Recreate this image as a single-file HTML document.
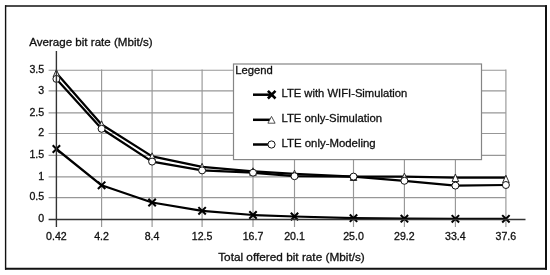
<!DOCTYPE html><html><head><meta charset="utf-8"><style>html,body{margin:0;padding:0;background:#fff;}svg{display:block}</style></head><body>
<svg width="550" height="275" viewBox="0 0 550 275">
<rect x="0" y="0" width="550" height="275" fill="#fff"/>
<line x1="5.6" y1="5.2" x2="5.6" y2="269.7" stroke="#111" stroke-width="1.4"/>
<line x1="5" y1="6.0" x2="547" y2="6.0" stroke="#111" stroke-width="1.7"/>
<line x1="546.0" y1="5.2" x2="546.0" y2="269.7" stroke="#111" stroke-width="2"/>
<line x1="5" y1="268.8" x2="547" y2="268.8" stroke="#111" stroke-width="1.9"/>
<line x1="48.6" y1="197.60" x2="505.90" y2="197.60" stroke="#979797" stroke-width="1.15"/>
<line x1="48.6" y1="176.90" x2="505.90" y2="176.90" stroke="#979797" stroke-width="1.15"/>
<line x1="48.6" y1="155.40" x2="505.90" y2="155.40" stroke="#979797" stroke-width="1.15"/>
<line x1="48.6" y1="133.50" x2="505.90" y2="133.50" stroke="#979797" stroke-width="1.15"/>
<line x1="48.6" y1="112.90" x2="505.90" y2="112.90" stroke="#979797" stroke-width="1.15"/>
<line x1="48.6" y1="90.90" x2="505.90" y2="90.90" stroke="#979797" stroke-width="1.15"/>
<line x1="48.6" y1="70.20" x2="505.90" y2="70.20" stroke="#979797" stroke-width="1.15"/>
<line x1="101.60" y1="69.60" x2="101.60" y2="227" stroke="#979797" stroke-width="1.15"/>
<line x1="152.10" y1="69.60" x2="152.10" y2="227" stroke="#979797" stroke-width="1.15"/>
<line x1="202.10" y1="69.60" x2="202.10" y2="227" stroke="#979797" stroke-width="1.15"/>
<line x1="253.00" y1="69.60" x2="253.00" y2="227" stroke="#979797" stroke-width="1.15"/>
<line x1="294.50" y1="69.60" x2="294.50" y2="227" stroke="#979797" stroke-width="1.15"/>
<line x1="353.50" y1="69.60" x2="353.50" y2="227" stroke="#979797" stroke-width="1.15"/>
<line x1="404.40" y1="69.60" x2="404.40" y2="227" stroke="#979797" stroke-width="1.15"/>
<line x1="455.40" y1="69.60" x2="455.40" y2="227" stroke="#979797" stroke-width="1.15"/>
<line x1="505.90" y1="69.60" x2="505.90" y2="227" stroke="#979797" stroke-width="1.15"/>
<text x="44.2" y="222.30" font-family="Liberation Sans, Arial, sans-serif" stroke="#111" stroke-width="0.3" font-size="10.6" text-anchor="end" fill="#111">0</text>
<text x="44.2" y="200.40" font-family="Liberation Sans, Arial, sans-serif" stroke="#111" stroke-width="0.3" font-size="10.6" text-anchor="end" fill="#111">0.5</text>
<text x="44.2" y="179.70" font-family="Liberation Sans, Arial, sans-serif" stroke="#111" stroke-width="0.3" font-size="10.6" text-anchor="end" fill="#111">1</text>
<text x="44.2" y="158.20" font-family="Liberation Sans, Arial, sans-serif" stroke="#111" stroke-width="0.3" font-size="10.6" text-anchor="end" fill="#111">1.5</text>
<text x="44.2" y="136.30" font-family="Liberation Sans, Arial, sans-serif" stroke="#111" stroke-width="0.3" font-size="10.6" text-anchor="end" fill="#111">2</text>
<text x="44.2" y="115.70" font-family="Liberation Sans, Arial, sans-serif" stroke="#111" stroke-width="0.3" font-size="10.6" text-anchor="end" fill="#111">2.5</text>
<text x="44.2" y="93.70" font-family="Liberation Sans, Arial, sans-serif" stroke="#111" stroke-width="0.3" font-size="10.6" text-anchor="end" fill="#111">3</text>
<text x="44.2" y="73.00" font-family="Liberation Sans, Arial, sans-serif" stroke="#111" stroke-width="0.3" font-size="10.6" text-anchor="end" fill="#111">3.5</text>
<text x="56.40" y="239.7" font-family="Liberation Sans, Arial, sans-serif" stroke="#111" stroke-width="0.3" font-size="10.6" text-anchor="middle" fill="#111">0.42</text>
<text x="101.60" y="239.7" font-family="Liberation Sans, Arial, sans-serif" stroke="#111" stroke-width="0.3" font-size="10.6" text-anchor="middle" fill="#111">4.2</text>
<text x="152.10" y="239.7" font-family="Liberation Sans, Arial, sans-serif" stroke="#111" stroke-width="0.3" font-size="10.6" text-anchor="middle" fill="#111">8.4</text>
<text x="202.10" y="239.7" font-family="Liberation Sans, Arial, sans-serif" stroke="#111" stroke-width="0.3" font-size="10.6" text-anchor="middle" fill="#111">12.5</text>
<text x="253.00" y="239.7" font-family="Liberation Sans, Arial, sans-serif" stroke="#111" stroke-width="0.3" font-size="10.6" text-anchor="middle" fill="#111">16.7</text>
<text x="294.50" y="239.7" font-family="Liberation Sans, Arial, sans-serif" stroke="#111" stroke-width="0.3" font-size="10.6" text-anchor="middle" fill="#111">20.1</text>
<text x="353.50" y="239.7" font-family="Liberation Sans, Arial, sans-serif" stroke="#111" stroke-width="0.3" font-size="10.6" text-anchor="middle" fill="#111">25.0</text>
<text x="404.40" y="239.7" font-family="Liberation Sans, Arial, sans-serif" stroke="#111" stroke-width="0.3" font-size="10.6" text-anchor="middle" fill="#111">29.2</text>
<text x="455.40" y="239.7" font-family="Liberation Sans, Arial, sans-serif" stroke="#111" stroke-width="0.3" font-size="10.6" text-anchor="middle" fill="#111">33.4</text>
<text x="505.90" y="239.7" font-family="Liberation Sans, Arial, sans-serif" stroke="#111" stroke-width="0.3" font-size="10.6" text-anchor="middle" fill="#111">37.6</text>
<text x="29.2" y="46" font-family="Liberation Sans, Arial, sans-serif" stroke="#111" stroke-width="0.3" font-size="11" textLength="123.4" lengthAdjust="spacingAndGlyphs" fill="#111">Average bit rate (Mbit/s)</text>
<text x="218.2" y="260.9" font-family="Liberation Sans, Arial, sans-serif" stroke="#111" stroke-width="0.3" font-size="11" textLength="146.6" lengthAdjust="spacingAndGlyphs" fill="#111">Total offered bit rate (Mbit/s)</text>
<polyline points="56.40,149.00 101.60,185.30 152.10,202.50 202.10,210.80 253.00,215.00 294.50,216.50 353.50,218.20 404.40,218.70 455.40,218.80 505.90,218.80" fill="none" stroke="#000" stroke-width="2.25" stroke-linejoin="round"/>
<polyline points="56.40,73.10 101.60,124.50 152.10,156.40 202.10,166.90 253.00,171.40 294.50,173.80 353.50,176.60 404.40,176.60 455.40,177.60 505.90,177.50" fill="none" stroke="#000" stroke-width="2.25" stroke-linejoin="round"/>
<polyline points="56.40,78.90 101.60,128.80 152.10,161.60 202.10,170.40 253.00,172.70 294.50,176.20 353.50,176.60 404.40,180.80 455.40,185.60 505.90,185.00" fill="none" stroke="#000" stroke-width="2.25" stroke-linejoin="round"/>
<path d="M52.70,145.30L60.10,152.70M60.10,145.30L52.70,152.70" stroke="#000" stroke-width="2.05" fill="none"/>
<path d="M97.90,181.60L105.30,189.00M105.30,181.60L97.90,189.00" stroke="#000" stroke-width="2.05" fill="none"/>
<path d="M148.40,198.80L155.80,206.20M155.80,198.80L148.40,206.20" stroke="#000" stroke-width="2.05" fill="none"/>
<path d="M198.40,207.10L205.80,214.50M205.80,207.10L198.40,214.50" stroke="#000" stroke-width="2.05" fill="none"/>
<path d="M249.30,211.30L256.70,218.70M256.70,211.30L249.30,218.70" stroke="#000" stroke-width="2.05" fill="none"/>
<path d="M290.80,212.80L298.20,220.20M298.20,212.80L290.80,220.20" stroke="#000" stroke-width="2.05" fill="none"/>
<path d="M349.80,214.50L357.20,221.90M357.20,214.50L349.80,221.90" stroke="#000" stroke-width="2.05" fill="none"/>
<path d="M400.70,215.00L408.10,222.40M408.10,215.00L400.70,222.40" stroke="#000" stroke-width="2.05" fill="none"/>
<path d="M451.70,215.10L459.10,222.50M459.10,215.10L451.70,222.50" stroke="#000" stroke-width="2.05" fill="none"/>
<path d="M502.20,215.10L509.60,222.50M509.60,215.10L502.20,222.50" stroke="#000" stroke-width="2.05" fill="none"/>
<polygon points="56.40,69.50 59.70,77.00 53.10,77.00" fill="#fff" stroke="#222" stroke-width="0.95"/>
<polygon points="101.60,120.90 104.90,128.40 98.30,128.40" fill="#fff" stroke="#222" stroke-width="0.95"/>
<polygon points="152.10,152.80 155.40,160.30 148.80,160.30" fill="#fff" stroke="#222" stroke-width="0.95"/>
<polygon points="202.10,163.30 205.40,170.80 198.80,170.80" fill="#fff" stroke="#222" stroke-width="0.95"/>
<polygon points="253.00,167.80 256.30,175.30 249.70,175.30" fill="#fff" stroke="#222" stroke-width="0.95"/>
<polygon points="294.50,170.20 297.80,177.70 291.20,177.70" fill="#fff" stroke="#222" stroke-width="0.95"/>
<polygon points="353.50,173.00 356.80,180.50 350.20,180.50" fill="#fff" stroke="#222" stroke-width="0.95"/>
<polygon points="404.40,173.10 407.70,180.60 401.10,180.60" fill="#fff" stroke="#222" stroke-width="0.95"/>
<polygon points="455.40,174.00 458.70,181.50 452.10,181.50" fill="#fff" stroke="#222" stroke-width="0.95"/>
<polygon points="505.90,175.20 509.20,182.70 502.60,182.70" fill="#fff" stroke="#222" stroke-width="0.95"/>
<circle cx="56.40" cy="78.90" r="3.5" fill="#fff" stroke="#111" stroke-width="1"/>
<circle cx="101.60" cy="128.80" r="3.5" fill="#fff" stroke="#111" stroke-width="1"/>
<circle cx="152.10" cy="161.60" r="3.5" fill="#fff" stroke="#111" stroke-width="1"/>
<circle cx="202.10" cy="170.40" r="3.5" fill="#fff" stroke="#111" stroke-width="1"/>
<circle cx="253.00" cy="172.70" r="3.5" fill="#fff" stroke="#111" stroke-width="1"/>
<circle cx="294.50" cy="176.20" r="3.5" fill="#fff" stroke="#111" stroke-width="1"/>
<circle cx="353.50" cy="176.60" r="3.5" fill="#fff" stroke="#111" stroke-width="1"/>
<circle cx="404.40" cy="180.80" r="3.5" fill="#fff" stroke="#111" stroke-width="1"/>
<circle cx="455.40" cy="185.60" r="3.5" fill="#fff" stroke="#111" stroke-width="1"/>
<circle cx="505.90" cy="185.00" r="3.5" fill="#fff" stroke="#111" stroke-width="1"/>
<line x1="56.4" y1="51" x2="56.4" y2="227" stroke="#333" stroke-width="1.4"/>
<line x1="48.6" y1="219.5" x2="525.5" y2="219.5" stroke="#333" stroke-width="1.4"/>
<rect x="233.5" y="64" width="248" height="95.6" fill="#fff" stroke="#858585" stroke-width="1.2"/>
<text x="235.3" y="74" font-family="Liberation Sans, Arial, sans-serif" stroke="#111" stroke-width="0.3" font-size="11" textLength="37.6" lengthAdjust="spacingAndGlyphs" fill="#111">Legend</text>
<line x1="253" y1="94.7" x2="271.5" y2="94.7" stroke="#000" stroke-width="2.5"/>
<path d="M267.90,90.90L275.50,98.50M275.50,90.90L267.90,98.50" stroke="#000" stroke-width="2.6" fill="none"/>
<text x="281.5" y="96.90" font-family="Liberation Sans, Arial, sans-serif" stroke="#111" stroke-width="0.3" font-size="11" textLength="125.8" lengthAdjust="spacingAndGlyphs" fill="#111">LTE with WIFI-Simulation</text>
<line x1="253" y1="119.8" x2="271.5" y2="119.8" stroke="#000" stroke-width="2.5"/>
<polygon points="271.50,116.40 275.10,123.20 267.90,123.20" fill="#fff" stroke="#333" stroke-width="0.85"/>
<text x="281.5" y="122.00" font-family="Liberation Sans, Arial, sans-serif" stroke="#111" stroke-width="0.3" font-size="11" textLength="100.5" lengthAdjust="spacingAndGlyphs" fill="#111">LTE only-Simulation</text>
<line x1="253" y1="144.5" x2="271.5" y2="144.5" stroke="#000" stroke-width="2.5"/>
<circle cx="271.50" cy="144.50" r="3.6" fill="#fff" stroke="#111" stroke-width="1"/>
<text x="281.5" y="146.70" font-family="Liberation Sans, Arial, sans-serif" stroke="#111" stroke-width="0.3" font-size="11" textLength="94.2" lengthAdjust="spacingAndGlyphs" fill="#111">LTE only-Modeling</text>
</svg></body></html>
